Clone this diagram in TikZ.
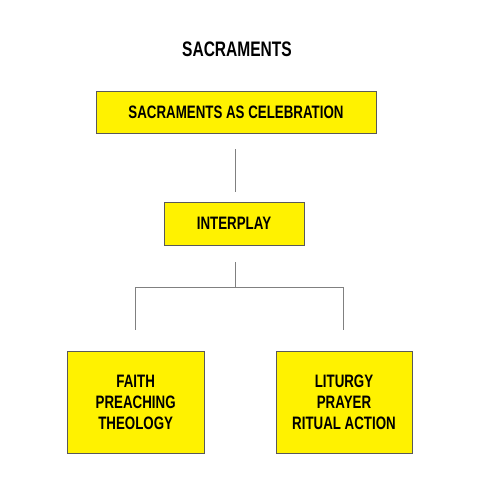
\documentclass[tikz,border=0pt]{standalone}
\usepackage{fontspec}
\setmainfont{Liberation Sans}[FakeStretch=0.74]
\begin{document}
\begin{tikzpicture}[x=0.75pt,y=-0.75pt,
    box/.style={draw=black!65,line width=0.6pt,fill=yellow,inner sep=0pt,
      font=\bfseries\fontsize{13.5}{15.75}\selectfont,align=center},
    link/.style={draw=black!50,line width=0.75pt}]
  \useasboundingbox (0,0) rectangle (480,480);
  \node (title) at (237,49) {\bfseries\fontsize{15.75}{18}\selectfont SACRAMENTS};
  \node[box,minimum width=210pt,minimum height=31.5pt] (celeb) at (236,112)
    {SACRAMENTS AS CELEBRATION};
  \node[box,minimum width=105pt,minimum height=32.25pt] (interplay) at (234,223.5)
    {INTERPLAY};
  \node[box,minimum width=102.75pt,minimum height=76.5pt] (faith) at (135.7,402.5)
    {FAITH\\PREACHING\\THEOLOGY};
  \node[box,minimum width=102pt,minimum height=76.5pt] (liturgy) at (344,402.5)
    {LITURGY\\PRAYER\\RITUAL ACTION};
  \coordinate (fork) at (236,287);
  \begin{scope}[link]
    \draw[shorten <=12pt,shorten >=7.5pt] (celeb.south -| fork) -- (interplay.north -| fork);
    \draw[shorten <=12.75pt] (interplay.south -| fork) -- (fork);
    \draw[shorten >=15.75pt] (fork) -| (faith);
    \draw[shorten >=15.75pt] (fork) -| (liturgy);
  \end{scope}
\end{tikzpicture}
\end{document}
